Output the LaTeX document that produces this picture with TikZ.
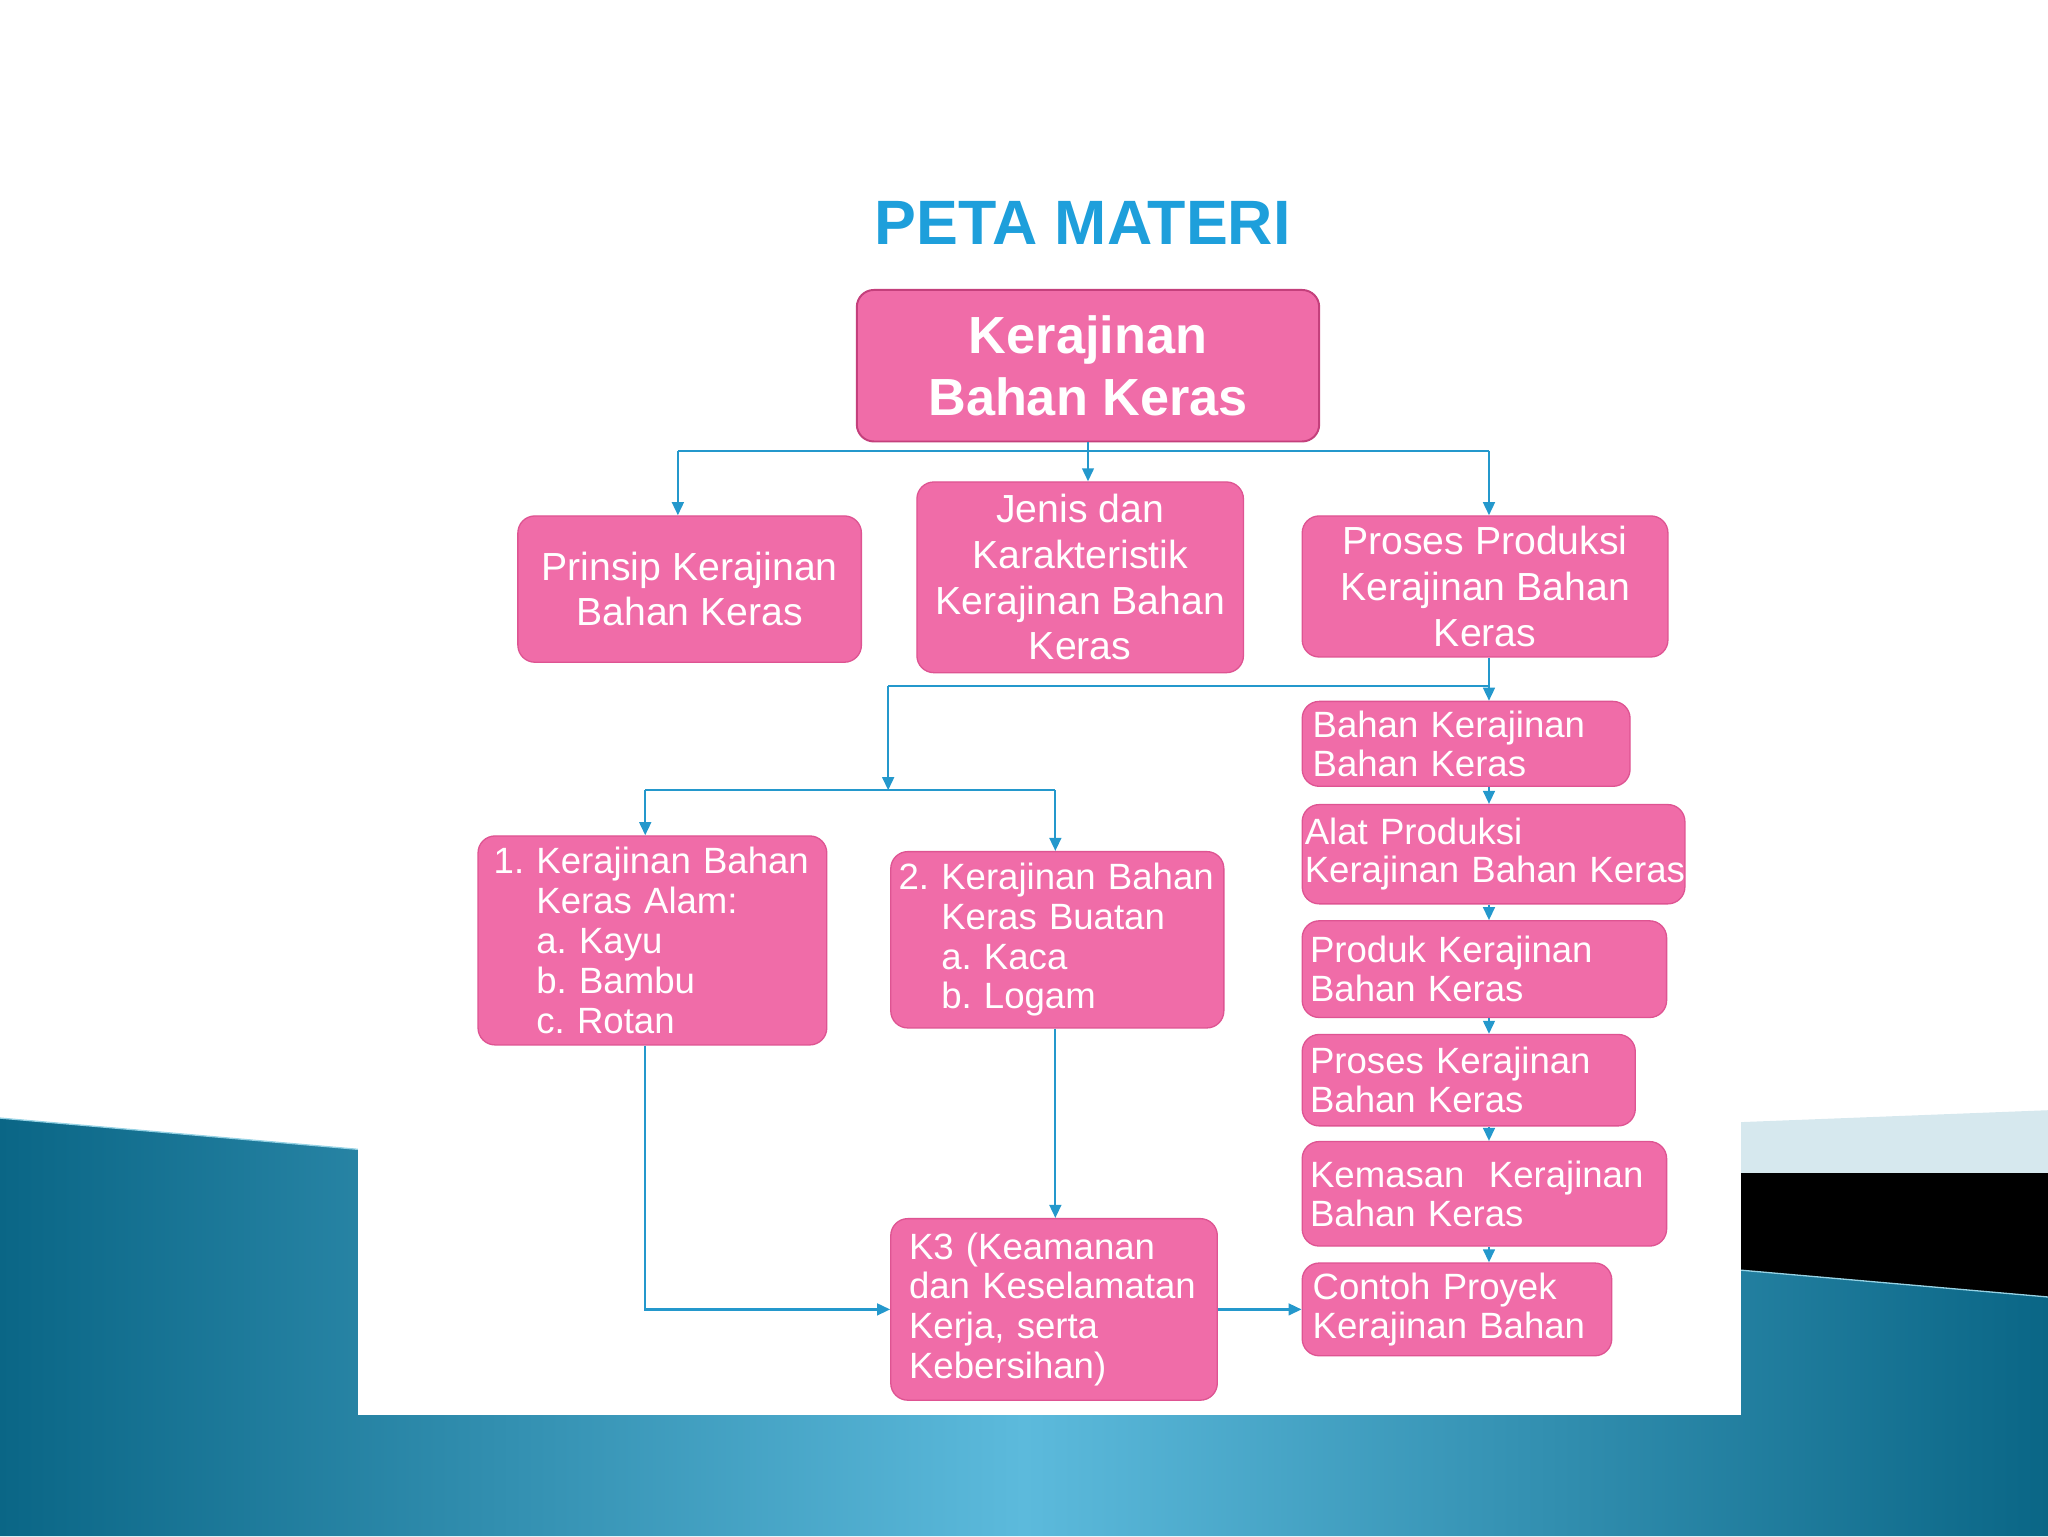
\documentclass[tikz,border=0pt]{standalone}
\usepackage{fontspec}
\setmainfont{Liberation Sans}
\usetikzlibrary{arrows.meta}
\frenchspacing
\definecolor{boxpink}{RGB}{240,108,168}
\definecolor{boxline}{RGB}{222,84,146}
\definecolor{topline}{RGB}{196,64,124}
\definecolor{linkblue}{RGB}{36,152,204}
\definecolor{titleblue}{RGB}{30,159,219}
\definecolor{tealdark}{RGB}{10,102,134}
\definecolor{teallight}{RGB}{92,186,220}
\definecolor{paleband}{RGB}{214,232,238}
\definecolor{tealrim}{RGB}{150,210,228}

\begin{document}
\begin{tikzpicture}[x=1pt,y=1pt,yscale=-1,
  box/.style={draw=boxline, line width=1pt, fill=boxpink, rounded corners=13pt, text=white, inner ysep=0pt},
  midbox/.style={box, inner xsep=4pt, font=\fontsize{30}{35}\selectfont, align=center},
  listbox/.style={box, font=\fontsize{28}{30.5}\selectfont, align=left},
  colbox/.style={box, font=\fontsize{28}{29.5}\selectfont, align=left},
  link/.style={draw=linkblue, line width=1.7pt},
  arrow/.style={link, -{Triangle[length=10pt,width=9pt]}}]
\useasboundingbox (0,0) rectangle (1568,1176);

%Background shapes
\fill[paleband] (1000,872) -- (1568,850) -- (1568,1010) -- (1000,1010) -- cycle;
\fill[black] (1000,898) rectangle (1568,1010);
\shade[left color=tealdark, right color=tealdark, middle color=teallight] (0,856) -- (1568,993) -- (1568,1176) -- (0,1176) -- cycle;
\draw[tealrim, line width=1pt] (0,856) -- (1568,993);
\fill[white] (274,700) rectangle (1333,1083);

% Text Node
\node[font=\bfseries\fontsize{48}{50}\selectfont, text=titleblue] (title) at (829,171) {PETA MATERI};
% Text Node
\node[box, draw=topline, line width=1.5pt, font=\bfseries\fontsize{40}{47}\selectfont, align=center, minimum width=354pt, minimum height=116pt] (topbox) at (833,280) {Kerajinan\\Bahan Keras};

% Text Node
\node[midbox, minimum width=263pt, minimum height=112pt] (prinsip) at (528,451) {Prinsip Kerajinan\\Bahan Keras};
% Text Node
\node[midbox, minimum width=250pt, minimum height=146pt] (jenis) at (827,442) {Jenis dan\\Karakteristik\\Kerajinan Bahan\\Keras};
% Text Node
\node[midbox, minimum width=280pt, minimum height=108pt] (proses) at (1137,449) {Proses Produksi\\Kerajinan Bahan\\Keras};

% Text Node
\node[listbox, inner xsep=12pt, text width=243pt, minimum height=160pt] (alam) at (499.5,720) {\mbox{1. Kerajinan Bahan}\\\phantom{1. }Keras Alam:\\\phantom{1. }a. Kayu\\\phantom{1. }b. Bambu\\\phantom{1. }c. Rotan};
% Text Node
\node[listbox, inner xsep=6pt, text width=243pt, minimum height=135pt] (buatan) at (809.5,719.5) {\mbox{2. Kerajinan Bahan}\\\phantom{2. }Keras Buatan\\\phantom{2. }a. Kaca\\\phantom{2. }b. Logam};
% Text Node
\node[listbox, inner xsep=14pt, text width=222pt, minimum height=139pt] (kthree) at (807,1002.5) {K3 (Keamanan\\\mbox{dan Keselamatan}\\Kerja, serta\\Kebersihan)};

% Text Node
\node[colbox, inner xsep=8pt, text width=235pt, minimum height=65pt] (bahan) at (1122.5,569.5) {Bahan Kerajinan\\Bahan Keras};
% Text Node
\node[colbox, inner xsep=2pt, text width=289pt, minimum height=76pt] (alat) at (1143.5,654) {Alat Produksi\\\mbox{Kerajinan Bahan Keras}};
% Text Node
\node[colbox, inner xsep=6pt, text width=267pt, minimum height=74pt] (produk) at (1136.5,742) {Produk Kerajinan\\Bahan Keras};
% Text Node
\node[colbox, inner xsep=6pt, text width=243pt, minimum height=70pt] (prosesk) at (1124.5,827) {Proses Kerajinan\\Bahan Keras};
% Text Node
\node[colbox, inner xsep=6pt, text width=267pt, minimum height=80pt] (kemasan) at (1136.5,914) {\mbox{Kemasan\ \ Kerajinan}\\Bahan Keras};
% Text Node
\node[colbox, inner xsep=8pt, text width=221pt, minimum height=71pt] (contoh) at (1115.5,1002.5) {Contoh Proyek\\Kerajinan Bahan};

\coordinate (barL) at (519,345);
\coordinate (barR) at (1140,345);
\coordinate (splitL) at (680,525);
\coordinate (splitR) at (1140,525);
\coordinate (forkL) at (494,605);
\coordinate (forkR) at (808,605);

%Straight Lines
\draw[link] (barL) -- (barR);
\draw[arrow] (topbox.south) -- (topbox.south |- jenis.north);
\draw[arrow] (barL) -- (barL |- prinsip.north);
\draw[arrow] (barR) -- (barR |- proses.north);
%Straight Lines
\draw[link] (proses.south -| splitR) -- (splitR);
\draw[link] (splitL) -- (splitR);
\draw[arrow] (splitR) -- (splitR |- bahan.north);
\draw[arrow] (splitL) -- (splitL |- forkL);
\draw[link] (forkL) -- (forkR);
\draw[arrow] (forkL) -- (forkL |- alam.north);
\draw[arrow] (forkR) -- (forkR |- buatan.north);
%Straight Lines
\draw[arrow] (alam.south -| forkL) |- (kthree.west);
\draw[arrow] (buatan.south -| forkR) -- (forkR |- kthree.north);
\draw[arrow] (kthree.east) -- (contoh.west);
\foreach \a/\b in {bahan/alat, alat/produk, produk/prosesk, prosesk/kemasan, kemasan/contoh}
  \draw[arrow] (\a.south -| splitR) -- (splitR |- \b.north);

\end{tikzpicture}
\end{document}
